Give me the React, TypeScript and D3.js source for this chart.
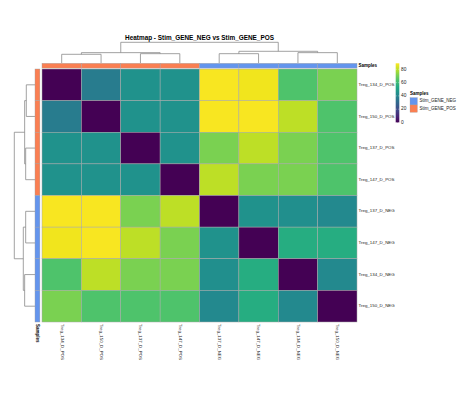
import { useMemo } from "react"
import * as d3 from "d3"

// sample order (rows and columns share the clustering order)
const samples = [
  "Treg_134_D_POS",
  "Treg_150_D_POS",
  "Treg_137_D_POS",
  "Treg_147_D_POS",
  "Treg_137_D_NEG",
  "Treg_147_D_NEG",
  "Treg_134_D_NEG",
  "Treg_150_D_NEG",
]
const groups = ["Stim_GENE_POS", "Stim_GENE_POS", "Stim_GENE_POS", "Stim_GENE_POS", "Stim_GENE_NEG", "Stim_GENE_NEG", "Stim_GENE_NEG", "Stim_GENE_NEG"]
const legendGroups = ["Stim_GENE_NEG", "Stim_GENE_POS"]
const groupColors = ["#6495ED", "#FA7F52"]

// sample-to-sample distances
const distances = [
  [0, 37, 45, 45, 88, 87, 64, 71],
  [37, 0, 45, 45, 88, 88, 80, 64],
  [45, 45, 0, 45, 71, 80, 71, 64],
  [45, 45, 45, 0, 80, 71, 71, 64],
  [88, 88, 71, 80, 0, 45, 44, 42],
  [87, 88, 80, 71, 45, 0, 55, 55],
  [64, 80, 71, 71, 44, 55, 0, 42],
  [71, 64, 64, 64, 42, 55, 42, 0],
]
const legendTicks = [0, 20, 40, 60, 80]
const colorMax = 89

// hierarchical clustering (relative merge heights)
interface Node {
  h: number
  children?: Node[]
  name?: string
}
const leaf = (name: string): Node => ({ h: 0, name })
const tree: Node = {
  h: 1,
  children: [
    {
      h: 0.5,
      children: [
        { h: 0.42, children: [leaf("Treg_134_D_POS"), leaf("Treg_150_D_POS")] },
        { h: 0.45, children: [leaf("Treg_137_D_POS"), leaf("Treg_147_D_POS")] },
      ],
    },
    {
      h: 0.565,
      children: [
        { h: 0.45, children: [leaf("Treg_137_D_NEG"), leaf("Treg_147_D_NEG")] },
        { h: 0.5, children: [leaf("Treg_134_D_NEG"), leaf("Treg_150_D_NEG")] },
      ],
    },
  ],
}

const title = "Heatmap - Stim_GENE_NEG vs Stim_GENE_POS"
const FONT = "Liberation Sans, Arial, sans-serif"

// segments of a dendrogram: pos(leaf) along the axis, hgt(h) across
function dendroSegments(root: Node, pos: (name: string) => number) {
  const segs: { a1: number; b1: number; a2: number; b2: number }[] = []
  const walk = (n: Node): number => {
    if (!n.children) return pos(n.name!)
    const ps = n.children.map(walk)
    segs.push({ a1: ps[0], b1: n.h, a2: ps[ps.length - 1], b2: n.h })
    n.children.forEach((c, i) => segs.push({ a1: ps[i], b1: n.h, a2: ps[i], b2: c.h }))
    return d3.mean(ps)!
  }
  walk(root)
  return segs
}

export default function App() {
  const x = d3.scaleBand().domain(samples).range([42, 357])
  const y = d3.scaleBand().domain(samples).range([69, 322])
  const color = d3.scaleSequential(d3.interpolateViridis).domain([0, colorMax])
  const groupColor = d3.scaleOrdinal<string, string>().domain(legendGroups).range(groupColors)

  const colH = d3.scaleLinear().domain([0, 1]).range([63, 42.3])
  const rowH = d3.scaleLinear().domain([0, 1]).range([35, 14.3])
  const legendY = d3.scaleLinear().domain([0, colorMax]).range([122.5, 63.3])

  const colSegs = useMemo(() => dendroSegments(tree, (n) => x(n)! + x.bandwidth() / 2), [])
  const rowSegs = useMemo(() => dendroSegments(tree, (n) => y(n)! + y.bandwidth() / 2), [])

  const stops = d3.range(0, 1.0001, 0.1)

  return (
    <svg width={474} height={395} style={{ position: "absolute", left: 0, top: 0, background: "#fff" }} fontFamily={FONT}>
      <defs>
        <linearGradient id="viridis" x1="0" y1="1" x2="0" y2="0">
          {stops.map((t) => (
            <stop key={t} offset={`${t * 100}%`} stopColor={d3.interpolateViridis(t)} />
          ))}
        </linearGradient>
      </defs>

      <text x={(42 + 357) / 2} y={40.3} fontSize={6.4} fontWeight="bold" textAnchor="middle" fill="#000">
        {title}
      </text>

      {/* dendrogrammes */}
      <g stroke="#8a8a8a" strokeWidth={0.8} fill="none">
        {colSegs.map((s, i) => (
          <line key={"c" + i} x1={s.a1} x2={s.a2} y1={colH(s.b1)} y2={colH(s.b2)} />
        ))}
        {rowSegs.map((s, i) => (
          <line key={"r" + i} y1={s.a1} y2={s.a2} x1={rowH(s.b1)} x2={rowH(s.b2)} />
        ))}
      </g>

      {/* annotations */}
      <g stroke="#a0a0a0" strokeWidth={0.4}>
        {samples.map((s, i) => (
          <rect key={"ca" + s} x={x(s)} y={63.3} width={x.bandwidth()} height={4.8} fill={groupColor(groups[i])} />
        ))}
        {samples.map((s, i) => (
          <rect key={"ra" + s} x={35} y={y(s)} width={4.9} height={y.bandwidth()} fill={groupColor(groups[i])} />
        ))}
      </g>

      {/* heatmap */}
      <g stroke="#a8a8a8" strokeWidth={0.5}>
        {distances.map((row, i) =>
          row.map((v, j) => (
            <rect key={i + "-" + j} x={x(samples[j])} y={y(samples[i])} width={x.bandwidth()} height={y.bandwidth()} fill={color(v)} />
          ))
        )}
      </g>

      {/* labels */}
      <g fontSize={4.4} fill="#222">
        {samples.map((s) => (
          <text key={"rl" + s} x={358.5} y={y(s)! + y.bandwidth() / 2} dominantBaseline="middle">
            {s}
          </text>
        ))}
        {samples.map((s) => (
          <text
            key={"cl" + s}
            transform={`translate(${x(s)! + x.bandwidth() / 2},${324}) rotate(90)`}
            dominantBaseline="middle"
          >
            {s}
          </text>
        ))}
      </g>
      <text x={358.5} y={65.8} fontSize={4.5} fontWeight="bold" dominantBaseline="middle">
        Samples
      </text>
      <text transform={`translate(37.5,324) rotate(90)`} fontSize={4.5} fontWeight="bold" dominantBaseline="middle">
        Samples
      </text>

      {/* legende couleur */}
      <rect x={395.7} y={63.3} width={3.6} height={122.5 - 63.3} fill="url(#viridis)" />
      {legendTicks.map((t) => (
        <g key={"lt" + t}>
          <line x1={395.7} x2={396.6} y1={legendY(t)} y2={legendY(t)} stroke="#fff" strokeWidth={0.5} />
          <line x1={398.4} x2={399.3} y1={legendY(t)} y2={legendY(t)} stroke="#fff" strokeWidth={0.5} />
          <text x={401} y={legendY(t)} fontSize={4.8} dominantBaseline="middle" fill="#222">
            {t}
          </text>
        </g>
      ))}

      {/* legende groupes */}
      <text x={410} y={93.5} fontSize={4.5} fontWeight="bold" dominantBaseline="middle">
        Samples
      </text>
      {legendGroups.map((g, i) => (
        <g key={g}>
          <rect x={410} y={97.6 + i * 7.35} width={7.4} height={7.35} fill={groupColor(g)} stroke="#a0a0a0" strokeWidth={0.3} />
          <text x={419.5} y={97.6 + i * 7.35 + 3.7} fontSize={4.5} dominantBaseline="middle" fill="#222">
            {g}
          </text>
        </g>
      ))}
    </svg>
  )
}
